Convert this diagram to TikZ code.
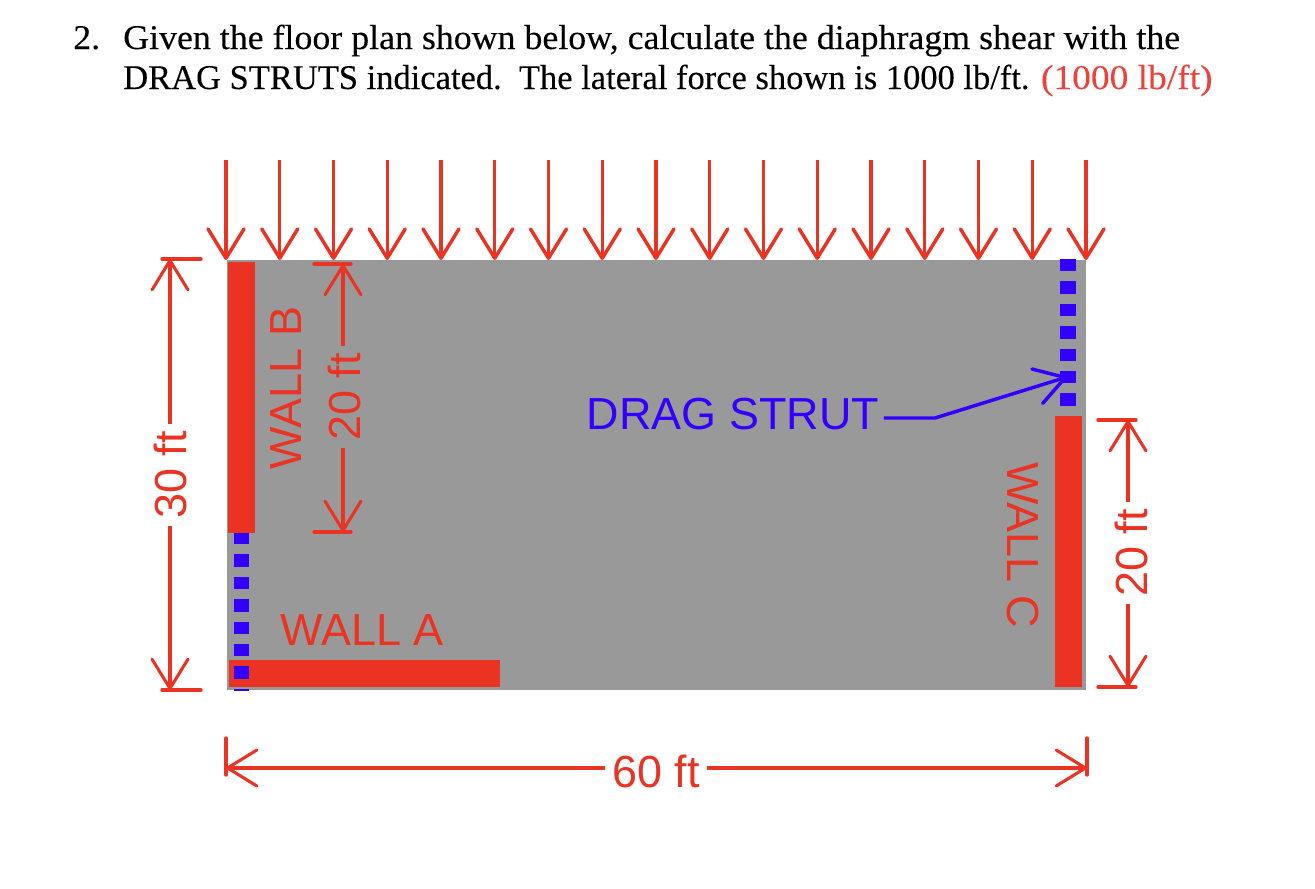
\documentclass[tikz,border=0pt]{standalone}
\usepackage{fontspec}
\setsansfont{Liberation Sans}
\newfontfamily\headfont[FakeStretch=1.034, FakeBold=0.15]{Liberation Serif}
\newfontfamily\headfontb[FakeStretch=0.995, FakeBold=0.15]{Liberation Serif}
\newfontfamily\headfontc[FakeStretch=1.08, FakeBold=0.15]{Liberation Serif}
\usetikzlibrary{arrows.meta}
\definecolor{wallred}{HTML}{EA3323}
\definecolor{headred}{HTML}{F0403A}
\definecolor{strutblue}{HTML}{3300FF}
\definecolor{floorgray}{HTML}{999999}
\tikzset{
	barb/.tip={Straight Barb[length=22pt, width=27pt, round]},
	load/.style={draw=wallred, line width=2.6pt, -barb},
	dimline/.style={draw=wallred, line width=2.3pt, -barb},
	dimbar/.style={draw=wallred, line width=2.5pt, line cap=round},
	walltext/.style={text=wallred, font=\sffamily\fontsize{33.7}{33.7}\selectfont, inner sep=5pt},
	headtext/.style={anchor=base west, inner sep=0pt, font=\headfont\fontsize{26}{26}\selectfont},
	strutdots/.style={draw=strutblue, line width=11.5pt, dash pattern=on 9.3pt off 7.5pt},
}
\begin{document}
\begin{tikzpicture}[x=0.75pt, y=-0.75pt]
	\useasboundingbox (0,0) rectangle (1315,889);

	% Soal
	\node[headtext] (num) at (73,49) {2.};
	\node[headtext] (line1) at (123,49) {Given the floor plan shown below, calculate the diaphragm shear with the};
	\node[headtext, font=\headfontb\fontsize{26}{26}\selectfont] (line2) at (123,89) {DRAG STRUTS indicated.\ \ The lateral force shown is 1000 lb/ft. \textcolor{headred}{\headfontc(1000 lb/ft)}};

	% Denah
	\fill[floorgray] (227,260) rectangle (1086,690);
	\fill[wallred] (229,660) rectangle (500,687);
	\draw[strutdots] (241.5,532) -- (241.5,691);
	\fill[wallred] (228,262) rectangle (255,533);
	\draw[strutdots] (1068,259) -- (1068,418);
	\fill[wallred] (1055,416) rectangle (1082,687);

	% Beban
	\foreach \i in {0,...,16} {
		\coordinate (t\i) at (226+53.75*\i,160);
		\coordinate (b\i) at (226+53.75*\i,260);
		\draw[load] (t\i) -- (b\i);
	}

	% Label
	\node[walltext] (wallA) at (362,630) {WALL A};
	\node[walltext, rotate=90] (wallB) at (286,388) {WALL B};
	\node[walltext, rotate=-90] (wallC) at (1023,545) {WALL C};
	\node[walltext, text=strutblue, inner sep=3.5pt] (strut) at (733,414) {DRAG STRUT};
	\node[walltext, rotate=90] (dimL) at (170,475) {30 ft};
	\node[walltext, rotate=90] (dimB) at (344,397) {20 ft};
	\node[walltext, rotate=90] (dimC) at (1131,553) {20 ft};
	\node[walltext] (dimW) at (656,771) {60 ft};

	% Ukuran
	\coordinate (dimLa) at (170,259);
	\coordinate (dimLb) at (170,690);
	\coordinate (dimBa) at (343,264);
	\coordinate (dimBb) at (343,532);
	\coordinate (dimCa) at (1128,420);
	\coordinate (dimCb) at (1128,687);
	\coordinate (dimWa) at (226,768);
	\coordinate (dimWb) at (1087,768);
	\draw[dimline] (dimLa |- dimL.east) -- (dimLa);
	\draw[dimline] (dimLb |- dimL.west) -- (dimLb);
	\draw[dimline] (dimBa |- dimB.east) -- (dimBa);
	\draw[dimline] (dimBb |- dimB.west) -- (dimBb);
	\draw[dimline] (dimCa |- dimC.east) -- (dimCa);
	\draw[dimline] (dimCb |- dimC.west) -- (dimCb);
	\draw[dimline] (dimW.west |- dimWa) -- (dimWa);
	\draw[dimline] (dimW.east |- dimWb) -- (dimWb);

	\draw[dimbar] (162,259) -- (201,259);
	\draw[dimbar] (162,690) -- (201,690);
	\draw[dimbar] (314,264) -- (351,264);
	\draw[dimbar] (314,532) -- (351,532);
	\draw[dimbar] (1098,420) -- (1136,420);
	\draw[dimbar] (1098,687) -- (1136,687);
	\draw[dimbar] (226,738) -- (226,775);
	\draw[dimbar] (1087,738) -- (1087,775);

	% Penunjuk
	\coordinate (bend) at (935,418);
	\coordinate (target) at (1067,377);
	\draw[draw=strutblue, line width=2.6pt, -barb] (strut.east |- bend) -- (bend) -- (target);
\end{tikzpicture}
\end{document}
